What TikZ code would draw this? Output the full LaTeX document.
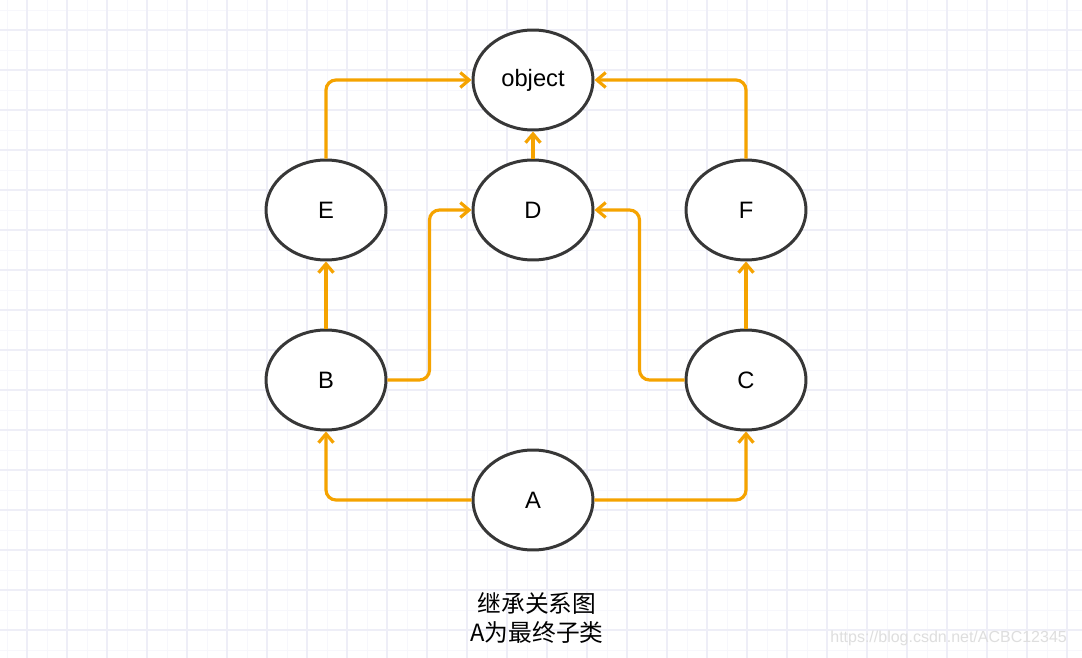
\documentclass[tikz,border=0pt]{standalone}
\usepackage{fontspec}
\setmainfont{Liberation Sans}
\newfontfamily\cjk{Noto Sans CJK SC}
\usepackage{xcolor}
\definecolor{myorange}{RGB}{245,163,0}
\definecolor{mygray}{RGB}{55,55,55}
\definecolor{mygrid}{RGB}{238,238,247}
\definecolor{mygridlight}{RGB}{247,247,252}
\usetikzlibrary{arrows.meta}
\usetikzlibrary{calc}
\usetikzlibrary{shapes.geometric}

\begin{document}
\begin{tikzpicture}[x=0.02cm, y=-0.02cm,
    cls/.style={ellipse, draw=mygray, line width=1.7pt, fill=white, minimum width=2.4cm, minimum height=2cm, font=\fontsize{13.5}{16}\selectfont},
    inherit/.style={draw=myorange, line width=1.8pt, rounded corners=0.2cm, -{Straight Barb[length=5pt,width=8.5pt]}}]
      \useasboundingbox (0,0) rectangle (1082,658);
      \fill[white] (0,0) rectangle (1082,658);
      \draw[mygridlight, line width=0.5pt] foreach \x in {7,47,...,1082}{(\x,0) -- (\x,658)} foreach \y in {10,50,...,658}{(0,\y) -- (1082,\y)};
      \draw[mygrid, line width=0.6pt] foreach \x in {27,67,...,1082}{(\x,0) -- (\x,658)} foreach \y in {30,70,...,658}{(0,\y) -- (1082,\y)};
      
      \node[cls] (object) at (533,80) {object};
      \node[cls] (E) at (326,210) {E};
      \node[cls] (D) at (533,210) {D};
      \node[cls] (F) at (746,210) {F};
      \node[cls] (B) at (326,380) {B};
      \node[cls] (C) at (746,380) {C};
      \node[cls] (A) at (533,500) {A};
      
      \path[inherit] (E.north) |- (object.west);
      \path[inherit] (F.north) |- (object.east);
      \path[inherit] (D.north) -- (object.south);
      \path[inherit] (B.north) -- (E.south);
      \path[inherit] (C.north) -- (F.south);
      \path[inherit] (B.east) -| ($(B.east)!.5!(D.west)$) |- (D.west);
      \path[inherit] (C.west) -| ($(C.west)!.5!(D.east)$) |- (D.east);
      \path[inherit] (A.west) -| (B.south);
      \path[inherit] (A.east) -| (C.south);
      
      \node[font=\cjk\fontsize{13.5}{16}\selectfont, align=center] (caption) at (537,618) {继承关系图\\A为最终子类};
      \node[anchor=east, text=black!13, font=\fontsize{9.1}{11}\selectfont] (mark) at (1073,638) {https://blog.csdn.net/ACBC12345};
    \end{tikzpicture}
\end{document}
